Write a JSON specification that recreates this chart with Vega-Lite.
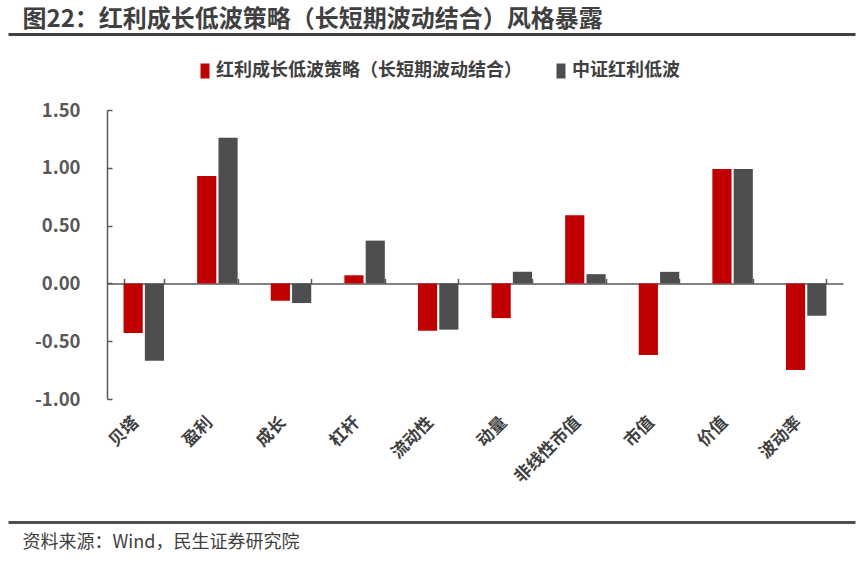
{
  "$schema": "https://vega.github.io/schema/vega-lite/v6.json",
  "autosize": {"type": "none"},
  "padding": {"left": 8, "top": 110, "right": 4, "bottom": 168},
  "width": 847,
  "height": 289,
  "background": "white",
  "config": {
    "view": {"stroke": null},
    "font": "Noto Sans CJK SC",
    "locale": {
      "number": {
        "decimal": ".",
        "thousands": ",",
        "grouping": [3],
        "currency": ["", ""],
        "minus": "-"
      }
    }
  },
  "data": {
    "values": [
      {"cat": "贝塔", "series": "红利成长低波策略（长短期波动结合）", "value": -0.43},
      {"cat": "贝塔", "series": "中证红利低波", "value": -0.67},
      {"cat": "盈利", "series": "红利成长低波策略（长短期波动结合）", "value": 0.93},
      {"cat": "盈利", "series": "中证红利低波", "value": 1.26},
      {"cat": "成长", "series": "红利成长低波策略（长短期波动结合）", "value": -0.15},
      {"cat": "成长", "series": "中证红利低波", "value": -0.17},
      {"cat": "杠杆", "series": "红利成长低波策略（长短期波动结合）", "value": 0.07},
      {"cat": "杠杆", "series": "中证红利低波", "value": 0.37},
      {"cat": "流动性", "series": "红利成长低波策略（长短期波动结合）", "value": -0.41},
      {"cat": "流动性", "series": "中证红利低波", "value": -0.40},
      {"cat": "动量", "series": "红利成长低波策略（长短期波动结合）", "value": -0.30},
      {"cat": "动量", "series": "中证红利低波", "value": 0.10},
      {"cat": "非线性市值", "series": "红利成长低波策略（长短期波动结合）", "value": 0.59},
      {"cat": "非线性市值", "series": "中证红利低波", "value": 0.08},
      {"cat": "市值", "series": "红利成长低波策略（长短期波动结合）", "value": -0.62},
      {"cat": "市值", "series": "中证红利低波", "value": 0.10},
      {"cat": "价值", "series": "红利成长低波策略（长短期波动结合）", "value": 0.99},
      {"cat": "价值", "series": "中证红利低波", "value": 0.99},
      {"cat": "波动率", "series": "红利成长低波策略（长短期波动结合）", "value": -0.75},
      {"cat": "波动率", "series": "中证红利低波", "value": -0.28}
    ]
  },
  "layer": [
    {
      "mark": {"type": "bar"},
      "encoding": {
        "x": {
          "field": "cat",
          "type": "nominal",
          "sort": null,
          "scale": {"range": [99, 835], "paddingInner": 0.45, "paddingOuter": 0.225},
          "axis": {
            "title": null,
            "orient": "bottom",
            "offset": -115.6,
            "domain": true,
            "domainColor": "#595959",
            "domainWidth": 1.5,
            "ticks": true,
            "tickBand": "extent",
            "tickSize": -5,
            "tickColor": "#595959",
            "tickWidth": 1.5,
            "labelAngle": -45,
            "labelAlign": "right",
            "labelBaseline": "middle",
            "labelPadding": 141,
            "labelOffset": -8,
            "labelFontSize": 17,
            "labelFontWeight": "bold",
            "labelColor": "#404040",
            "labelLimit": 0
          }
        },
        "xOffset": {
          "field": "series",
          "type": "nominal",
          "sort": ["红利成长低波策略（长短期波动结合）", "中证红利低波"],
          "scale": {"paddingInner": 0.1}
        },
        "y": {
          "field": "value",
          "type": "quantitative",
          "scale": {"domain": [-1, 1.5], "nice": false, "zero": false},
          "axis": {
            "title": null,
            "offset": -99,
            "values": [-1, -0.5, 0, 0.5, 1, 1.5],
            "format": ".2f",
            "grid": false,
            "domainColor": "#595959",
            "domainWidth": 1.5,
            "tickSize": -5,
            "tickColor": "#595959",
            "tickWidth": 1.5,
            "labelPadding": 32,
            "labelFontSize": 18.5,
            "labelFontWeight": "bold",
            "labelColor": "#595959"
          }
        },
        "color": {
          "field": "series",
          "type": "nominal",
          "scale": {
            "domain": ["红利成长低波策略（长短期波动结合）", "中证红利低波"],
            "range": ["#C00000", "#4D4E50"]
          },
          "legend": {
            "title": null,
            "orient": "none",
            "direction": "horizontal",
            "legendX": 188,
            "legendY": -48,
            "symbolType": "M-0.6,-1H0.6V1H-0.6Z",
            "symbolSize": 225,
            "symbolStrokeWidth": 0,
            "labelFontSize": 18,
            "labelFontWeight": "bold",
            "labelColor": "#404040",
            "labelOffset": 2,
            "labelLimit": 0,
            "columnPadding": 30
          }
        }
      }
    },
    {
      "mark": {"type": "point", "opacity": 0},
      "encoding": {
        "x": {
          "field": "cat",
          "type": "nominal",
          "sort": null,
          "axis": {
            "orient": "top",
            "offset": 76,
            "domain": true,
            "domainColor": "#404040",
            "domainWidth": 3,
            "ticks": false,
            "labels": false,
            "title": "图22：红利成长低波策略（长短期波动结合）风格暴露",
            "titleX": 14,
            "titleY": -15,
            "titleAlign": "left",
            "titleAnchor": "start",
            "titleBaseline": "middle",
            "titleFontSize": 24,
            "titleFontWeight": "bold",
            "titleColor": "#404040",
            "titleLimit": 0
          }
        }
      }
    },
    {
      "mark": {"type": "point", "opacity": 0},
      "encoding": {
        "x": {
          "field": "cat",
          "type": "nominal",
          "sort": null,
          "axis": {
            "orient": "bottom",
            "offset": 123,
            "domain": true,
            "domainColor": "#505050",
            "domainWidth": 3,
            "ticks": false,
            "labels": false,
            "title": "资料来源：Wind，民生证券研究院",
            "titleX": 14,
            "titleY": 20,
            "titleAlign": "left",
            "titleAnchor": "start",
            "titleBaseline": "middle",
            "titleFontSize": 18,
            "titleFontWeight": "normal",
            "titleColor": "#404040",
            "titleLimit": 0
          }
        }
      }
    }
  ],
  "resolve": {"scale": {"x": "independent"}, "axis": {"x": "independent"}}
}
